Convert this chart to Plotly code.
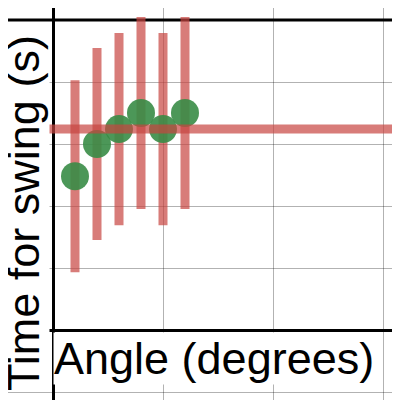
import plotly.graph_objects as go

angles = [2, 4, 6, 8, 10, 12]
times = [2.48, 3.0, 3.24, 3.5, 3.24, 3.5]
errors = [1.55, 1.55, 1.55, 1.55, 1.55, 1.55]
mean_time = 3.24

red = "rgba(199,68,64,0.7)"
fig = go.Figure()
fig.add_shape(type="line", xref="paper", x0=0, x1=1, y0=mean_time, y1=mean_time,
              line=dict(color=red, width=9), layer="above")
fig.add_shape(type="line", xref="paper", x0=0, x1=1, y0=5, y1=5,
              line=dict(color="black", width=3), layer="below")
fig.add_trace(go.Scatter(x=angles, y=times, mode="markers",
    marker=dict(color="rgba(56,140,70,0.9)", size=28),
    error_y=dict(type="data", array=errors, color=red, thickness=9, width=0)))
fig.update_layout(width=400, height=400, margin=dict(l=0, r=0, t=0, b=0, autoexpand=False),
    plot_bgcolor="white", paper_bgcolor="white", showlegend=False,
    font=dict(family="Liberation Sans"))
fig.update_xaxes(range=[-45/11, 355/11], dtick=10, showticklabels=False, automargin=False,
    gridcolor="rgba(0,0,0,0.3)", gridwidth=1, zeroline=True, zerolinecolor="black", zerolinewidth=3)
fig.update_yaxes(range=[-78/62, 322/62], dtick=1, showticklabels=False, automargin=False,
    gridcolor="rgba(0,0,0,0.3)", gridwidth=1, zeroline=True, zerolinecolor="black", zerolinewidth=3)
fig.add_annotation(text="Angle (degrees)", xref="x", yref="paper", x=0, xanchor="left",
    y=50/400, yanchor="middle", showarrow=False, font=dict(size=45, color="black"),
    bgcolor="white", borderpad=0)
fig.add_annotation(text="Time for swing (s)", xref="paper", yref="paper", x=16/400, xanchor="center",
    y=1-205/400, yanchor="middle", textangle=-90, showarrow=False,
    font=dict(size=45, color="black"), bgcolor="white", borderpad=0)
fig.write_html("out.html")
